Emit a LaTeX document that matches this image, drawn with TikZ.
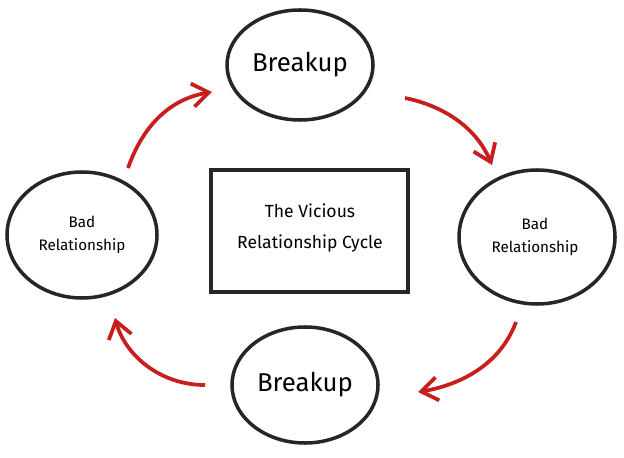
\documentclass[tikz,border=0pt]{standalone}
\usepackage{fontspec}
\setmainfont{Fira Sans}
\usetikzlibrary{arrows.meta}
\begin{document}
\begin{tikzpicture}[x=0.03cm,y=-0.03cm,
  circ/.style={draw=black!85,line width=3pt},
  arr/.style={draw={rgb,255:red,200;green,30;blue,30},line width=3.2pt,-{Straight Barb[length=14pt,width=20pt]}},
  lbl/.style={font=\fontsize{13}{16}\selectfont,align=center}]
\useasboundingbox (0,0) rectangle (624,458);
\draw[circ] (300,65) ellipse (73 and 55);
\node[lbl,font=\fontsize{22}{24}\selectfont] (top) at (300,65) {Breakup};
\draw[circ] (537,237) ellipse (78 and 67);
\node[lbl] (right) at (535,237) {Bad\\[4pt]Relationship};
\draw[circ] (305,385) ellipse (73 and 58);
\node[lbl,font=\fontsize{22}{24}\selectfont] (bottom) at (305,385) {Breakup};
\draw[circ] (82,235) ellipse (75 and 63);
\node[lbl] (left) at (82,235) {Bad\\[4pt]Relationship};
\draw[black!85,line width=2.8pt] (211,170) rectangle (408,292);
\node[lbl,font=\fontsize{15}{18}\selectfont] (center) at (310,228) {The Vicious\\[8pt]Relationship Cycle};
\coordinate (a1) at (128,168); \coordinate (a2) at (212,92);
\coordinate (b1) at (405,98); \coordinate (b2) at (492,165);
\coordinate (c1) at (516,322); \coordinate (c2) at (418,392);
\coordinate (d1) at (205,385); \coordinate (d2) at (115,318);
\draw[arr] (a1) .. controls (145,120) and (175,98) .. (a2);
\draw[arr] (b1) .. controls (440,105) and (475,125) .. (b2);
\draw[arr] (c1) .. controls (500,365) and (460,385) .. (c2);
\draw[arr] (d1) .. controls (160,385) and (125,355) .. (d2);
\end{tikzpicture}
\end{document}
